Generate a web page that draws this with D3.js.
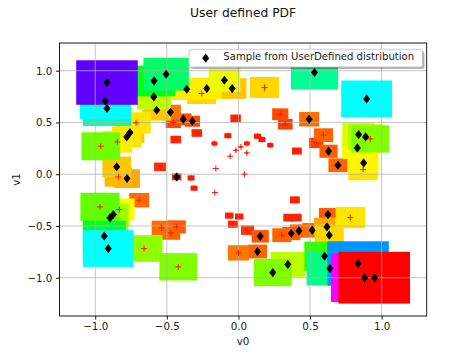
<!DOCTYPE html>
<html>
<head>
<meta charset="utf-8">
<script src="https://cdn.jsdelivr.net/npm/d3@7"></script>
<style>
  html, body { margin: 0; padding: 0; background: #fff; }
  svg { display: block; font-family: "DejaVu Sans", sans-serif; }
</style>
</head>
<body>
<svg id="chart" width="474" height="355"></svg>
<script>
// ---- data ----
const titleText = "User defined PDF";
const xLabel = "v0";
const yLabel = "v1";
const legendLabel = "Sample from UserDefined distribution";
const xTicks = [-1.0, -0.5, 0.0, 0.5, 1.0];
const yTicks = [-1.0, -0.5, 0.0, 0.5, 1.0];

// support points of the UserDefined distribution (v0, v1) and their normalised weights
const supportX = [-0.918,-0.930,-0.918,-0.505,-0.589,-0.591,-0.571,-0.475,-0.385,-0.322,
  -0.361,-0.256,-0.221,-0.098,-0.044,0.182,0.531,0.895,0.292,0.327,
  0.494,0.594,0.543,0.629,0.695,0.839,0.921,0.888,0.830,0.874,
  0.870,-0.020,-0.291,-0.074,-0.168,0.059,0.133,0.164,0.222,0.408,
  -0.331,-0.310,0.394,0.350,0.405,-0.064,0.005,-0.039,0.063,0.152,
  0.133,0.303,0.369,0.422,0.515,0.625,0.618,0.634,0.781,0.345,
  0.240,0.601,0.639,0.948,0.881,0.835,-0.850,-0.778,-0.839,-0.961,
  -0.715,-0.846,-0.780,-0.757,-0.548,-0.438,-0.431,-0.693,-0.967,-0.832,
  -0.874,-0.897,-0.937,-0.909,-0.659,-0.420,-0.536,-0.473,-0.431,0.000,
  -0.455,-0.018,0.017,-0.058,0.059,-0.158,0.042,-0.165];
const supportY = [0.886,0.708,0.635,0.966,0.901,0.747,0.618,0.599,0.531,0.512,
  0.821,0.780,0.828,0.908,0.828,0.838,0.983,0.728,0.580,0.483,
  0.531,0.377,0.302,0.222,0.087,0.383,0.341,0.360,0.254,0.109,
  0.045,0.540,0.398,0.372,0.297,0.297,0.367,0.335,0.280,0.224,
  -0.036,-0.135,-0.248,-0.420,-0.419,-0.400,-0.409,-0.483,-0.541,-0.600,
  -0.747,-0.589,-0.573,-0.548,-0.541,-0.390,-0.509,-0.589,-0.419,-0.872,
  -0.950,-0.792,-0.911,-1.000,-1.000,-0.863,0.071,-0.042,-0.026,0.270,
  0.496,0.312,0.360,0.403,0.071,0.335,-0.026,-0.251,-0.316,-0.341,
  -0.390,-0.422,-0.599,-0.718,-0.718,-0.895,-0.519,-0.567,-0.509,-0.760,
  0.500,0.232,0.264,0.174,0.206,0.055,0.000,-0.177];
const supportW = [0.73,0.50,0.45,0.40,0.35,0.21,0.13,0.075,0.05,0.045,
  0.155,0.14,0.155,0.18,0.13,0.14,0.43,0.50,0.05,0.042,
  0.07,0.065,0.04,0.06,0.065,0.19,0.25,0.22,0.165,0.16,
  0.15,0.025,0.025,0.015,0.012,0.012,0.015,0.015,0.013,0.022,
  0.015,0.015,0.022,0.025,0.025,0.018,0.018,0.022,0.035,0.055,
  0.065,0.065,0.06,0.06,0.07,0.06,0.11,0.14,0.15,0.21,
  0.25,0.30,0.42,1.00,0.83,0.57,0.13,0.11,0.12,0.26,
  0.15,0.155,0.15,0.13,0.03,0.025,0.02,0.07,0.27,0.165,
  0.20,0.23,0.36,0.50,0.24,0.25,0.07,0.065,0.06,0.078,
  0.045,0.005,0.006,0.003,0.005,0.003,0.003,0.003];

// sample drawn from the distribution (black diamonds)
const sampleX = [-0.918,-0.930,-0.918,-0.505,-0.589,-0.591,-0.571,-0.475,-0.385,-0.322,
  -0.361,-0.221,-0.098,-0.044,0.531,0.895,0.494,0.629,0.695,0.839,
  0.888,0.830,0.874,-0.850,-0.778,-0.780,-0.757,-0.431,-0.874,-0.897,
  -0.937,-0.909,0.152,0.133,0.369,0.422,0.515,0.625,0.618,0.634,
  0.345,0.240,0.601,0.639,0.835,0.881,0.951];
const sampleY = [0.886,0.708,0.635,0.966,0.901,0.747,0.618,0.599,0.531,0.512,
  0.821,0.828,0.908,0.828,0.983,0.728,0.531,0.222,0.087,0.383,
  0.360,0.254,0.109,0.071,-0.042,0.360,0.403,-0.026,-0.390,-0.422,
  -0.599,-0.718,-0.600,-0.747,-0.573,-0.548,-0.541,-0.390,-0.509,-0.589,
  -0.872,-0.950,-0.792,-0.911,-0.863,-1.002,-1.002];

// ---- layout ----
const W = 474, H = 355;
const plot = {left: 59.5, right: 426.7, top: 43, bottom: 316};
const svg = d3.select("#chart");

// rectangle side (data units) and colour from the weight
const sideScale = d3.scaleLinear()
  .domain([0, 0.02, 0.04, 0.07, 0.13, 0.16, 0.21, 0.26, 0.36, 0.43, 0.5, 0.57, 0.73, 0.83, 1])
  .range([0, 0.065, 0.1, 0.14, 0.2, 0.21, 0.24, 0.27, 0.30, 0.33, 0.355, 0.43, 0.43, 0.47, 0.5]);
const colorOf = w => d3.hsl(w * 360, 1, 0.5).toString();

const support = supportX.map((x, i) => ({x, y: supportY[i], w: supportW[i], s: sideScale(supportW[i])}));
const sample = sampleX.map((x, i) => ({x, y: sampleY[i]}));

// autoscale with 5% margins like matplotlib
const xmin = d3.min(support, d => d.x - d.s / 2), xmax = d3.max(support, d => d.x + d.s / 2);
const ymin = d3.min(support, d => d.y - d.s / 2), ymax = d3.max(support, d => d.y + d.s / 2);
const mx = (xmax - xmin) * 0.05, my = (ymax - ymin) * 0.05;
const x = d3.scaleLinear().domain([xmin - mx, xmax + mx]).range([plot.left, plot.right]);
const y = d3.scaleLinear().domain([ymin - my, ymax + my]).range([plot.bottom, plot.top]);

svg.append("defs").append("clipPath").attr("id", "clip")
  .append("rect").attr("x", plot.left).attr("y", plot.top)
  .attr("width", plot.right - plot.left).attr("height", plot.bottom - plot.top);

const g = svg.append("g").attr("clip-path", "url(#clip)");

// rectangles: smaller weights first
g.selectAll("rect.cell")
  .data(support.slice().sort((a, b) => a.w - b.w))
  .join("rect").attr("class", "cell")
  .attr("x", d => x(d.x - d.s / 2))
  .attr("y", d => y(d.y + d.s / 2))
  .attr("width", d => x(d.x + d.s / 2) - x(d.x - d.s / 2))
  .attr("height", d => y(d.y - d.s / 2) - y(d.y + d.s / 2))
  .attr("fill", d => colorOf(d.w));

// grid (drawn over the patches)
g.selectAll("line.gx").data(xTicks).join("line").attr("class", "gx")
  .attr("x1", d => x(d)).attr("x2", d => x(d))
  .attr("y1", plot.top).attr("y2", plot.bottom)
  .attr("stroke", "#b0b0b0").attr("stroke-opacity", 0.75).attr("stroke-width", 1);
g.selectAll("line.gy").data(yTicks).join("line").attr("class", "gy")
  .attr("y1", d => y(d)).attr("y2", d => y(d))
  .attr("x1", plot.left).attr("x2", plot.right)
  .attr("stroke", "#b0b0b0").attr("stroke-opacity", 0.75).attr("stroke-width", 1);

// support point markers (+)
const pr = 3;
g.selectAll("path.plus").data(support).join("path").attr("class", "plus")
  .attr("d", d => `M${x(d.x) - pr},${y(d.y)}h${2 * pr}M${x(d.x)},${y(d.y) - pr}v${2 * pr}`)
  .attr("stroke", "#ff1a00").attr("stroke-width", 1).attr("fill", "none");

// sample diamonds
const dw = 3.5, dh = 4.6;
const diamond = (cx, cy) => `M${cx},${cy - dh}L${cx + dw},${cy}L${cx},${cy + dh}L${cx - dw},${cy}Z`;
g.selectAll("path.samp").data(sample).join("path").attr("class", "samp")
  .attr("d", d => diamond(x(d.x), y(d.y)))
  .attr("fill", "#000");

// frame
svg.append("rect").attr("x", plot.left).attr("y", plot.top)
  .attr("width", plot.right - plot.left).attr("height", plot.bottom - plot.top)
  .attr("fill", "none").attr("stroke", "#000").attr("stroke-width", 0.9);

// axes
const fmt = v => d3.format(".1f")(v).replace("-", "\u2212");
const xAxis = d3.axisBottom(x).tickValues(xTicks).tickFormat(fmt).tickSizeOuter(0).tickSize(3.6).tickPadding(3.5);
const yAxis = d3.axisLeft(y).tickValues(yTicks).tickFormat(fmt).tickSizeOuter(0).tickSize(3.6).tickPadding(3.5);
const gx = svg.append("g").attr("transform", `translate(0,${plot.bottom})`).call(xAxis);
const gy = svg.append("g").attr("transform", `translate(${plot.left},0)`).call(yAxis);
[gx, gy].forEach(a => {
  a.select(".domain").remove();
  a.selectAll("line").attr("stroke", "#000").attr("stroke-width", 0.9);
  a.selectAll("text").attr("font-family", "DejaVu Sans").attr("font-size", "10.3px").attr("fill", "#222");
});

// labels
svg.append("text").attr("x", (plot.left + plot.right) / 2).attr("y", 16.5)
  .attr("text-anchor", "middle").attr("font-size", "12.3px").attr("fill", "#111").text(titleText);
svg.append("text").attr("x", (plot.left + plot.right) / 2).attr("y", 345)
  .attr("text-anchor", "middle").attr("font-size", "10.3px").attr("fill", "#222").text(xLabel);
svg.append("text").attr("transform", `translate(20,${(plot.top + plot.bottom) / 2}) rotate(-90)`)
  .attr("text-anchor", "middle").attr("font-size", "10.3px").attr("fill", "#222").text(yLabel);

// legend
const lg = svg.append("g");
const lx = 189, ly = 49.3, lw = 233.5, lh = 17.7;
lg.append("rect").attr("x", lx + 2).attr("y", ly + 2).attr("width", lw).attr("height", lh)
  .attr("rx", 2.5).attr("fill", "#000").attr("fill-opacity", 0.3);
lg.append("rect").attr("x", lx).attr("y", ly).attr("width", lw).attr("height", lh)
  .attr("rx", 2.5).attr("fill", "#fff").attr("stroke", "#bbb").attr("stroke-width", 0.8);
lg.append("path").attr("d", diamond(205.7, ly + lh / 2)).attr("fill", "#000");
lg.append("text").attr("x", 223.3).attr("y", 60.4).attr("font-size", "10.1px").attr("fill", "#222").text(legendLabel);
</script>
</body>
</html>
